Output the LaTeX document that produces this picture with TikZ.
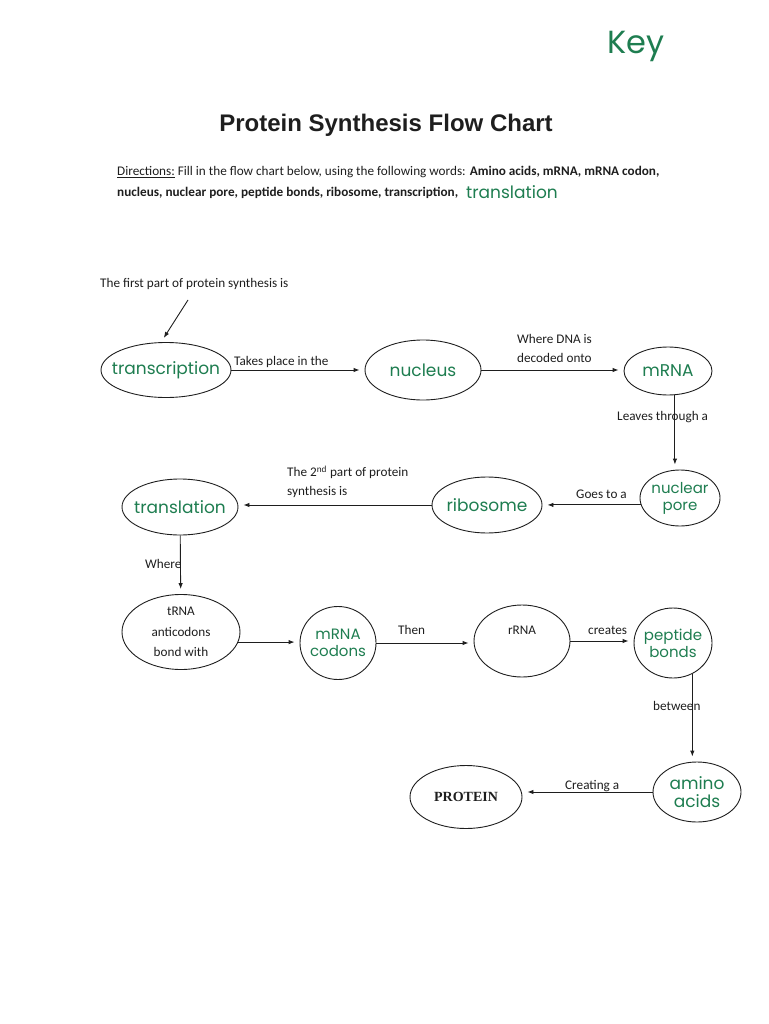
\documentclass[tikz,border=0pt]{standalone}
\usepackage{fontspec}
\setmainfont{Carlito}
\newfontfamily\titlefont{Liberation Sans}
\newfontfamily\handfont{Poppins}
\newfontfamily\oldserif{Liberation Serif}
\usetikzlibrary{arrows, arrows.meta}
\usetikzlibrary{calc}
\usetikzlibrary{shapes.geometric}
\definecolor{ink}{RGB}{30,125,80}
\definecolor{pencil}{RGB}{30,30,30}

\tikzset{
  bubble/.style={ellipse, draw=pencil, line width=0.9pt, inner sep=0pt},
  hand/.style={text=ink, font=\handfont\fontsize{17}{18}\selectfont, align=center, inner sep=0pt},
  smallhand/.style={hand, font=\handfont\fontsize{15}{17}\selectfont},
  lbl/.style={text=pencil, font=\fontsize{13.2}{19}\selectfont, inner sep=0pt, anchor=west, align=left},
  arr/.style={draw=pencil, -{Latex[length=6pt,width=4.5pt]}, line width=0.9pt, shorten >=5pt},
}

\begin{document}
\begin{tikzpicture}[x=1pt, y=-1pt]
      \useasboundingbox (0,0) rectangle (768,1024);

      \node[text=ink, font=\handfont\fontsize{32}{32}\selectfont] (key) at (636,46) {Key};
      \node[text=pencil, font=\titlefont\bfseries\fontsize{24}{28}\selectfont] (title) at (386,125) {Protein Synthesis Flow Chart};
      \node[lbl] (dir1) at (117,172) {\underline{Directions:} Fill in the flow chart below, using the following words: \textbf{Amino acids, mRNA, mRNA codon,}};
      \node[lbl] (dir2) at (117,193) {\textbf{nucleus, nuclear pore, peptide bonds, ribosome, transcription,}};
      \node[hand, anchor=west] (dir3) at (466,192) {translation};

      \node[lbl] (first) at (100,284) {The first part of protein synthesis is};
      \coordinate (start) at (188,300);

      % first row
      \node[bubble, minimum width=130, minimum height=55, label={[hand]center:transcription}] (transcription) at (166,370) {};
      \node[bubble, minimum width=116, minimum height=60, label={[hand]center:nucleus}] (nucleus) at (423,370) {};
      \node[bubble, minimum width=88, minimum height=48, label={[hand]center:mRNA}] (mrna) at (668,371) {};

      % second row
      \node[bubble, minimum width=80, minimum height=56, label={[smallhand]center:nuclear\\pore}] (pore) at (680,498) {};
      \node[bubble, minimum width=110, minimum height=56, label={[hand]center:ribosome}] (ribosome) at (487,505) {};
      \node[bubble, minimum width=116, minimum height=56, label={[hand]center:translation}] (translation) at (180,507) {};

      % third row
      \node[bubble, minimum width=118, minimum height=75, label={[lbl, anchor=center, align=center, font=\fontsize{13.2}{20.5}\selectfont]center:tRNA\\anticodons\\bond with}] (trna) at (181,632) {};
      \node[bubble, minimum width=76, minimum height=73, label={[smallhand]center:mRNA\\codons}] (codons) at (338,643) {};
      \node[bubble, minimum width=96, minimum height=72, label={[lbl, anchor=center, yshift=11pt]center:rRNA}] (rrna) at (522,641) {};
      \node[bubble, minimum width=78, minimum height=70, label={[smallhand]center:peptide\\bonds}] (peptide) at (673,643) {};

      % last row
      \node[bubble, minimum width=88, minimum height=60, label={[hand]center:amino\\acids}] (amino) at (697,792) {};
      \node[bubble, minimum width=112, minimum height=63, label={[text=pencil, font=\oldserif\bfseries\fontsize{14}{16}\selectfont]center:PROTEIN}] (protein) at (466,797) {};

      \node[lbl] (takes) at (234,362) {Takes place in the};
      \node[lbl] (where) at (517,348) {Where DNA is\\decoded onto};
      \node[lbl] (leaves) at (617,417) {Leaves through a};
      \node[lbl] (goes) at (576,494) {Goes to a};
      \node[lbl] (second) at (287,482) {The 2\textsuperscript{nd} part of protein\\synthesis is};
      \node[lbl] (wherex) at (145,564) {Where};
      \node[lbl] (then) at (398,630) {Then};
      \node[lbl] (creates) at (588,630) {creates};
      \node[lbl] (between) at (653,706) {between};
      \node[lbl] (creating) at (565,786) {Creating a};

      \draw[arr] (start) -- (transcription.100);
      \draw[arr] (transcription.east) -- (transcription.east -| nucleus.west);
      \draw[arr] (nucleus.east) -- (nucleus.east -| mrna.west);
      \draw[arr] (mrna.-74) -- (mrna.-74 |- pore.north);
      \draw[arr] (pore.190) -- (pore.190 -| ribosome.east);
      \draw[arr] (ribosome.west) -- (ribosome.west -| translation.east);
      \draw[arr] (translation) -- (trna);
      \draw[arr] (trna.-10) -- (trna.-10 -| codons.west);
      \draw[arr] (codons.east) -- (codons.east -| rrna.west);
      \draw[arr] (rrna.east) -- (rrna.east -| peptide.west);
      \draw[arr] (peptide.-58) -- (peptide.-58 |- amino.north);
      \draw[arr] (amino.west) -- (amino.west -| protein.east);
    \end{tikzpicture}
\end{document}
